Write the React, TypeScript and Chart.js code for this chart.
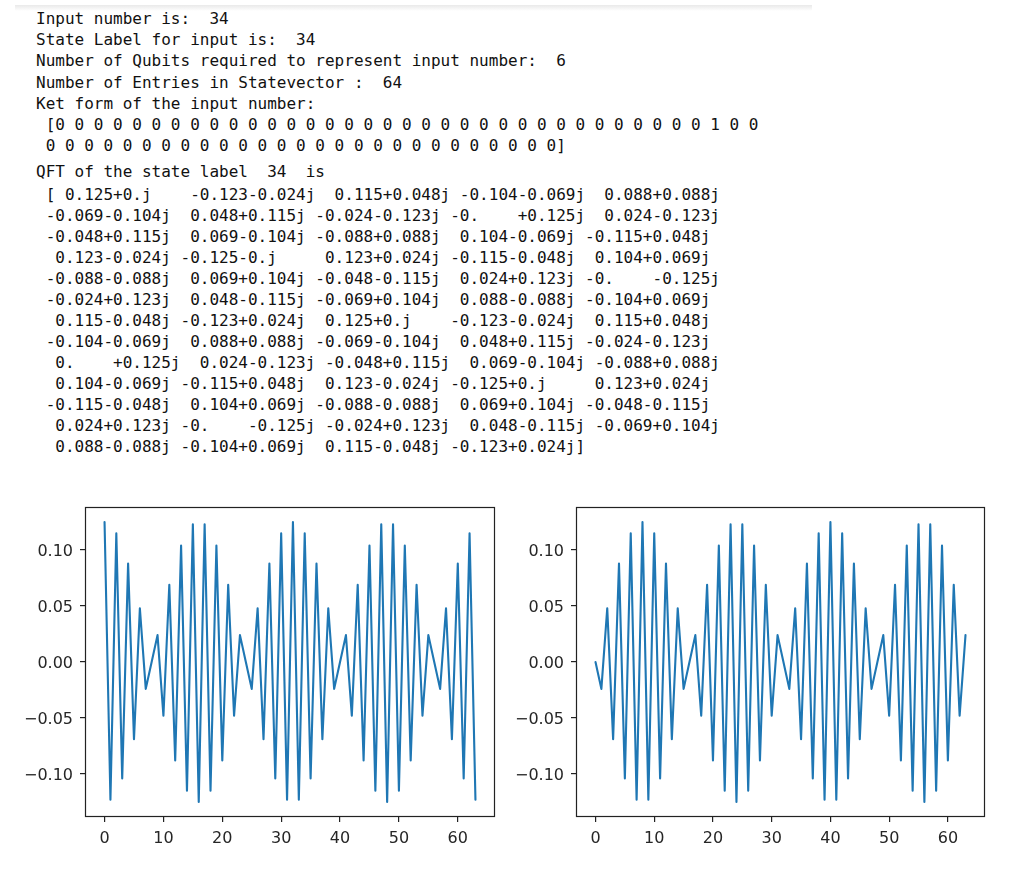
import React, { useEffect, useRef } from "react";
import { Chart, registerables } from "chart.js";

Chart.register(...registerables);

// ---- Data (read from the printed statevector) ----
const indices: number[] = Array.from({ length: 64 }, (_, i) => i);

const realParts: number[] = [
  0.125, -0.123, 0.115, -0.104, 0.088,
  -0.069, 0.048, -0.024, -0.0, 0.024,
  -0.048, 0.069, -0.088, 0.104, -0.115,
  0.123, -0.125, 0.123, -0.115, 0.104,
  -0.088, 0.069, -0.048, 0.024, -0.0,
  -0.024, 0.048, -0.069, 0.088, -0.104,
  0.115, -0.123, 0.125, -0.123, 0.115,
  -0.104, 0.088, -0.069, 0.048, -0.024,
  0.0, 0.024, -0.048, 0.069, -0.088,
  0.104, -0.115, 0.123, -0.125, 0.123,
  -0.115, 0.104, -0.088, 0.069, -0.048,
  0.024, -0.0, -0.024, 0.048, -0.069,
  0.088, -0.104, 0.115, -0.123,
];

const imagParts: number[] = [
  0.0, -0.024, 0.048, -0.069, 0.088,
  -0.104, 0.115, -0.123, 0.125, -0.123,
  0.115, -0.104, 0.088, -0.069, 0.048,
  -0.024, -0.0, 0.024, -0.048, 0.069,
  -0.088, 0.104, -0.115, 0.123, -0.125,
  0.123, -0.115, 0.104, -0.088, 0.069,
  -0.048, 0.024, 0.0, -0.024, 0.048,
  -0.069, 0.088, -0.104, 0.115, -0.123,
  0.125, -0.123, 0.115, -0.104, 0.088,
  -0.069, 0.048, -0.024, 0.0, 0.024,
  -0.048, 0.069, -0.088, 0.104, -0.115,
  0.123, -0.125, 0.123, -0.115, 0.104,
  -0.088, 0.069, -0.048, 0.024,
];

const xTicks: number[] = [0, 10, 20, 30, 40, 50, 60];
const xTickLabels: string[] = ["0", "10", "20", "30", "40", "50", "60"];
const yTicks: number[] = [-0.1, -0.05, 0, 0.05, 0.1];
const yTickLabels: string[] = ["\u22120.10", "\u22120.05", "0.00", "0.05", "0.10"];
const xRange: number[] = [-3.15, 66.15];
const yRange: number[] = [-0.1375, 0.1375];

// ---- Printed text ----
const headerLines: string[] = [
  "Input number is:  34",
  "State Label for input is:  34",
  "Number of Qubits required to represent input number:  6",
  "Number of Entries in Statevector :  64",
  "Ket form of the input number:",
  " [0 0 0 0 0 0 0 0 0 0 0 0 0 0 0 0 0 0 0 0 0 0 0 0 0 0 0 0 0 0 0 0 0 0 1 0 0",
  " 0 0 0 0 0 0 0 0 0 0 0 0 0 0 0 0 0 0 0 0 0 0 0 0 0 0 0]",
];
const qftTitle = "QFT of the state label  34  is";
const qftLines: string[] = [
  " [ 0.125+0.j    -0.123-0.024j  0.115+0.048j -0.104-0.069j  0.088+0.088j",
  " -0.069-0.104j  0.048+0.115j -0.024-0.123j -0.    +0.125j  0.024-0.123j",
  " -0.048+0.115j  0.069-0.104j -0.088+0.088j  0.104-0.069j -0.115+0.048j",
  "  0.123-0.024j -0.125-0.j     0.123+0.024j -0.115-0.048j  0.104+0.069j",
  " -0.088-0.088j  0.069+0.104j -0.048-0.115j  0.024+0.123j -0.    -0.125j",
  " -0.024+0.123j  0.048-0.115j -0.069+0.104j  0.088-0.088j -0.104+0.069j",
  "  0.115-0.048j -0.123+0.024j  0.125+0.j    -0.123-0.024j  0.115+0.048j",
  " -0.104-0.069j  0.088+0.088j -0.069-0.104j  0.048+0.115j -0.024-0.123j",
  "  0.    +0.125j  0.024-0.123j -0.048+0.115j  0.069-0.104j -0.088+0.088j",
  "  0.104-0.069j -0.115+0.048j  0.123-0.024j -0.125+0.j     0.123+0.024j",
  " -0.115-0.048j  0.104+0.069j -0.088-0.088j  0.069+0.104j -0.048-0.115j",
  "  0.024+0.123j -0.    -0.125j -0.024+0.123j  0.048-0.115j -0.069+0.104j",
  "  0.088-0.088j -0.104+0.069j  0.115-0.048j -0.123+0.024j]",
];

const framePlugin = {
  id: "frame",
  afterDatasetsDraw(chart: any) {
    const { ctx, chartArea } = chart;
    const { left, top, right, bottom } = chartArea;
    ctx.save();
    ctx.strokeStyle = "#222";
    ctx.lineWidth = 1.2;
    ctx.strokeRect(left - 0.5, top - 0.5, right - left + 1, bottom - top + 1);
    ctx.restore();
  },
};

const tickFont = { family: "'DejaVu Sans', sans-serif", size: 16 };

function makeConfig(values: number[], yAxisWidth: number): any {
  return {
    type: "line",
    data: {
      datasets: [
        {
          data: values.map((v, i) => ({ x: indices[i], y: v })),
          borderColor: "#1f77b4",
          borderWidth: 2.1,
          pointRadius: 0,
          tension: 0,
          fill: false,
          borderJoinStyle: "round",
          borderCapStyle: "round",
        },
      ],
    },
    options: {
      animation: false,
      responsive: false,
      maintainAspectRatio: false,
      devicePixelRatio: 1,
      layout: { padding: { top: 18, right: 16, bottom: 0, left: 0 } },
      plugins: { legend: { display: false }, tooltip: { enabled: false } },
      scales: {
        x: {
          type: "linear",
          min: xRange[0],
          max: xRange[1],
          afterBuildTicks: (s: any) => {
            s.ticks = xTicks.map((v) => ({ value: v }));
          },
          afterFit: (s: any) => {
            s.height = 34;
          },
          grid: {
            display: true,
            drawOnChartArea: false,
            drawTicks: true,
            tickLength: 6,
            color: "#222",
            lineWidth: 1.2,
          },
          border: { display: false },
          ticks: {
            font: tickFont,
            color: "#262626",
            padding: 7,
            maxRotation: 0,
            autoSkip: false,
            callback: (_v: any, i: number) => xTickLabels[i],
          },
        },
        y: {
          type: "linear",
          min: yRange[0],
          max: yRange[1],
          afterBuildTicks: (s: any) => {
            s.ticks = yTicks.map((v) => ({ value: v }));
          },
          afterFit: (s: any) => {
            s.width = yAxisWidth;
          },
          grid: {
            display: true,
            drawOnChartArea: false,
            drawTicks: true,
            tickLength: 6,
            color: "#222",
            lineWidth: 1.2,
          },
          border: { display: false },
          ticks: {
            font: tickFont,
            color: "#262626",
            padding: 7,
            labelOffset: 2,
            autoSkip: false,
            callback: (_v: any, i: number) => yTickLabels[i],
          },
        },
      },
    },
    plugins: [framePlugin],
  };
}

function LinePlot(props: {
  values: number[];
  left: number;
  top: number;
  width: number;
  height: number;
  yAxisWidth: number;
}) {
  const ref = useRef<HTMLCanvasElement | null>(null);
  useEffect(() => {
    if (!ref.current) return;
    const chart = new Chart(ref.current, makeConfig(props.values, props.yAxisWidth));
    return () => chart.destroy();
  }, []);
  return (
    <canvas
      ref={ref}
      width={props.width}
      height={props.height}
      style={{
        position: "absolute",
        left: props.left,
        top: props.top,
        width: props.width,
        height: props.height,
      }}
    />
  );
}

const monoStyle: React.CSSProperties = {
  position: "absolute",
  left: 36,
  margin: 0,
  fontFamily: "'DejaVu Sans Mono', monospace",
  fontSize: 16,
  color: "#111",
  whiteSpace: "pre",
};

export default function App() {
  return (
    <div
      style={{
        position: "absolute",
        left: 0,
        top: 0,
        width: 1025,
        height: 874,
        background: "#fff",
        overflow: "hidden",
      }}
    >
      <div
        style={{
          position: "absolute",
          left: 15,
          top: 5,
          width: 797,
          height: 6,
          background: "linear-gradient(#e9e9e9, #ffffff)",
        }}
      />
      <pre style={{ ...monoStyle, top: 8, lineHeight: "21.2px" }}>
        {headerLines.join("\n")}
      </pre>
      <pre style={{ ...monoStyle, top: 161.4, lineHeight: "21.2px" }}>{qftTitle}</pre>
      <pre style={{ ...monoStyle, top: 183.7, lineHeight: "21.06px" }}>
        {qftLines.join("\n")}
      </pre>
      <LinePlot values={realParts} left={0} top={490} width={510} height={360} yAxisWidth={86} />
      <LinePlot values={imagParts} left={500} top={490} width={500} height={360} yAxisWidth={77} />
    </div>
  );
}
